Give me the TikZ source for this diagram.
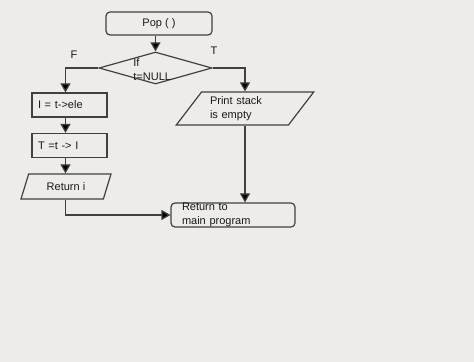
\documentclass[tikz,border=0pt]{standalone}
\usepackage{fontspec}
\setmainfont{Liberation Sans}
\usetikzlibrary{arrows.meta,shapes.geometric}
\definecolor{paper}{HTML}{EEECE9}
\definecolor{ink}{HTML}{404040}

\begin{document}
\begin{tikzpicture}[x=0.5pt,y=-0.5pt,
        every node/.style={font=\fontsize{5.5}{7}\selectfont, text=black!90},
        line/.style={draw=ink, line width=0.6pt},
        arr/.style={line, -{Triangle[length=4.5pt,width=5pt,fill=black]}},
        term/.style={line, rectangle, rounded corners=2pt, inner sep=0pt},
        box/.style={line, rectangle, inner sep=0pt, minimum width=37.5pt,
            minimum height=12pt, text width=31.5pt, align=left},
        io/.style={line, trapezium, trapezium stretches=true, inner sep=0pt},
        decision/.style={line, diamond, inner sep=0pt, minimum width=56.5pt, minimum height=16pt}]
        \fill[paper] (0,0) rectangle (474,362);
        \useasboundingbox (0,0) rectangle (474,362);

        \coordinate (lcol) at (65.5,0);

        \node[term, minimum width=53pt, minimum height=11.5pt] (pop) at (159,23.5) {Pop ( )};
        \node[decision] (ifnull) at (155.5,68) {};
        \node[anchor=west, align=left, inner sep=0pt] (iftext) at (133,70) {If\\t=NULL};
        \node[inner sep=0pt] (flab) at (74,55) {F};
        \node[inner sep=0pt] (tlab) at (214,51) {T};

        \node[box] (store) at (69.5,105) {I = t-{}>ele};
        \node[box] (link) at (69.5,145.5) {T =t -{}> I};
        \node[io, trapezium left angle=64, trapezium right angle=116,
            minimum width=45pt, minimum height=12.5pt] (reti) at (66,186.5) {Return i};

        \node[io, trapezium left angle=50, trapezium right angle=130,
            minimum width=69pt, minimum height=16.5pt, text width=35pt, align=left] (print) at (245,108.5)
            {Print stack\\is empty};
        \node[term, minimum width=62pt, minimum height=12pt, text width=51pt, align=left] (ret) at (233,215)
            {Return to\\main program};

        \draw[arr] (pop.south -| ifnull.north) -- (ifnull.north);
        \draw[arr] (ifnull.west) -| (lcol |- store.north);
        \draw[arr] (ifnull.east) -| (print.north);
        \draw[arr] (lcol |- store.south) -- (lcol |- link.north);
        \draw[arr] (lcol |- link.south) -- (lcol |- reti.north);
        \draw[arr] (lcol |- reti.south) |- (ret.west);
        \draw[arr] (print.south) -- (print.south |- ret.north);
    \end{tikzpicture}
\end{document}
